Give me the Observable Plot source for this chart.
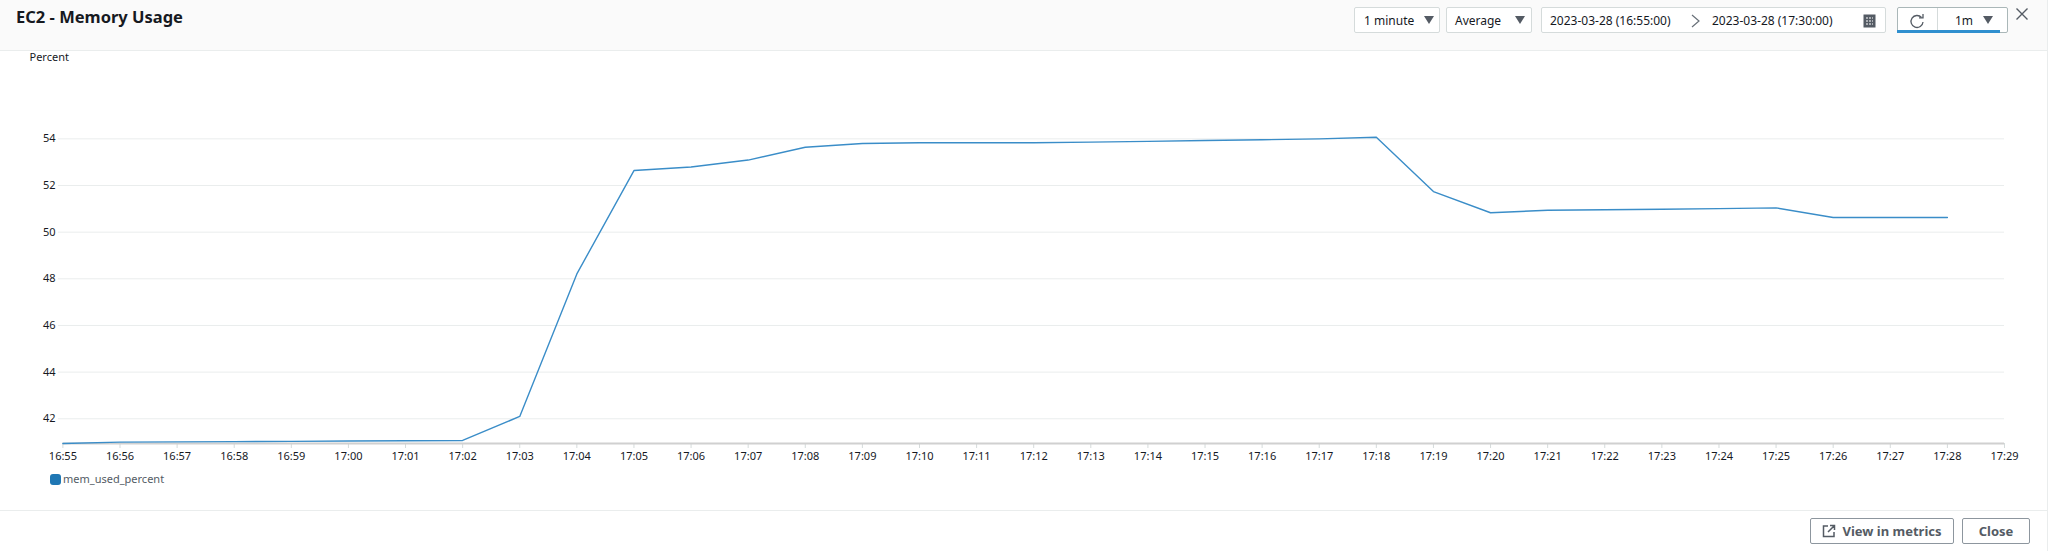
<!DOCTYPE html>
<html><head><meta charset="utf-8">
<script src="https://cdn.jsdelivr.net/npm/d3@7"></script>
<script src="https://cdn.jsdelivr.net/npm/@observablehq/plot@0.6"></script>
<style>
html,body{margin:0;padding:0;background:#fff;width:2048px;height:551px;overflow:hidden;font-family:"Noto Sans",sans-serif;color:#16191f}
.a{position:absolute;box-sizing:border-box}
#hdr{left:0;top:0;width:2048px;height:51px;background:#fafafa;border-bottom:1px solid #eaeded}
#title{left:16px;top:3px;font-size:16.5px;font-weight:700;line-height:28px;color:#16191f;white-space:nowrap}
.box{background:#fff;border:1px solid #d5dbdb;border-radius:2px;font-size:12px;line-height:23px;color:#16191f;white-space:nowrap}
.txt{font-size:12px;line-height:25px;white-space:nowrap;color:#16191f}
.arrow{width:0;height:0;border-left:5px solid transparent;border-right:5px solid transparent;border-top:8px solid #545b64}
#chart{left:0;top:50px}
#chart svg{display:block}
#sw{left:50px;top:474px;width:10.5px;height:10.5px;background:#1f77b4;border-radius:3px}
#lg{left:63px;top:471px;font-size:11px;line-height:16px;color:#545b64;white-space:nowrap}
#rule{left:0;top:510px;width:2047px;height:1px;background:#eaeded}
#edge{left:2047px;top:0;width:1px;height:551px;background:#eaeded}
.btn{background:#fff;border:1px solid #8d969e;border-radius:2px;font-size:13px;font-weight:700;color:#545b64;text-align:center;line-height:24px;white-space:nowrap}
</style></head><body>
<div id="hdr" class="a"></div>
<div id="title" class="a">EC2 - Memory Usage</div>

<div class="a box" style="left:1354px;top:7px;width:86px;height:26px"></div>
<div class="a txt" style="left:1364px;top:8px">1 minute</div>
<div class="a arrow" style="left:1424px;top:16px"></div>
<div class="a box" style="left:1446px;top:7px;width:86px;height:26px"></div>
<div class="a txt" style="left:1455px;top:8px">Average</div>
<div class="a arrow" style="left:1515px;top:16px"></div>
<div class="a box" style="left:1541px;top:7px;width:345px;height:26px"></div>
<div class="a txt" style="left:1550px;top:8px">2023-03-28 (16:55:00)</div>
<svg class="a" style="left:1690px;top:13px" width="12" height="16"><path d="M2 2 L9 8 L2 14" fill="none" stroke="#687078" stroke-width="1.2"/></svg>
<div class="a txt" style="left:1712px;top:8px">2023-03-28 (17:30:00)</div>
<svg class="a" style="left:1863px;top:14px" width="13" height="14"><rect x="0.5" y="0.5" width="12" height="13" fill="#545b64"/><path d="M3 4H10M3 7H10M3 10H10" stroke="#fff" stroke-dasharray="2 1"/></svg>
<div class="a box" style="left:1897px;top:7px;width:111px;height:26px;border-color:#aab7b8"></div>
<div class="a" style="left:1937px;top:8px;width:1px;height:24px;background:#d5dbdb"></div>
<svg class="a" style="left:1909px;top:13px" width="16" height="16"><path d="M12.5 4.5 A6 6 0 1 0 14 9" fill="none" stroke="#545b64" stroke-width="1.3"/><path d="M10 4.8 L14 4.8 L14 1" fill="none" stroke="#545b64" stroke-width="1.3"/></svg>
<div class="a txt" style="left:1955px;top:8px">1m</div>
<div class="a arrow" style="left:1983px;top:16px"></div>
<div class="a" style="left:1897px;top:30px;width:103px;height:3px;background:#2f8fcf"></div>
<svg class="a" style="left:2015px;top:7px" width="14" height="14"><path d="M1.5 1.5 L12.5 12.5 M12.5 1.5 L1.5 12.5" stroke="#545b64" stroke-width="1.4"/></svg>

<div id="chart" class="a"></div>
<div id="sw" class="a"></div>
<div id="lg" class="a">mem_used_percent</div>
<div id="rule" class="a"></div>
<div id="edge" class="a"></div>
<div class="a btn" style="left:1810px;top:518px;width:144px;height:26px"><svg width="14" height="14" style="vertical-align:-2px;margin-right:6px"><path d="M6 2H1.5V12.5H12V8M8 1.5H12.5V6M12.5 1.5L6 8" fill="none" stroke="#545b64" stroke-width="1.5"/></svg>View in metrics</div>
<div class="a btn" style="left:1962px;top:518px;width:68px;height:26px">Close</div>

<script>
const minutes = ["16:55","16:56","16:57","16:58","16:59","17:00","17:01","17:02","17:03","17:04","17:05","17:06","17:07","17:08","17:09","17:10","17:11","17:12","17:13","17:14","17:15","17:16","17:17","17:18","17:19","17:20","17:21","17:22","17:23","17:24","17:25","17:26","17:27","17:28"];
const memUsedPercent = [40.94,41.0,41.01,41.02,41.03,41.05,41.06,41.07,42.1,48.21,52.64,52.79,53.09,53.64,53.8,53.83,53.83,53.83,53.86,53.89,53.93,53.96,54.0,54.07,51.74,50.83,50.94,50.96,50.98,51.01,51.04,50.63,50.63,50.63];
const xTickLabels = [...minutes,"17:29"];
const yTicks = [42,44,46,48,50,52,54];
const yDomain = [40.94,55];

const toTime = m => new Date(`2023-03-28T${m}:00Z`);
const rows = minutes.map((m,i)=>({time:toTime(m),value:memUsedPercent[i]}));
const xTicks = xTickLabels.map(toTime);
const font = '"Noto Sans",sans-serif';

const chart = Plot.plot({
  width:2048, height:420,
  marginLeft:58, marginRight:44, marginTop:65, marginBottom:27,
  style:{background:"transparent",fontFamily:font,fontSize:"11px"},
  x:{type:"utc",domain:[xTicks[0],xTicks[xTicks.length-1]],insetLeft:4.4},
  y:{domain:yDomain},
  marks:[
    Plot.gridY(yTicks,{stroke:"#eaeded",strokeOpacity:1}),
    Plot.axisY({ticks:yTicks,tickSize:0,tickPadding:3,label:"Percent",labelArrow:"none",labelAnchor:"top",labelOffset:29,fill:"#16191f"}),
    Plot.axisX({ticks:xTicks,tickFormat:d3.utcFormat("%H:%M"),tickSize:5,tickPadding:4,label:null,stroke:"#d5dbdb",fill:"#16191f"}),
    Plot.ruleY([yDomain[0]],{x1:xTicks[0],x2:xTicks[xTicks.length-1],stroke:"#d0d0d0",strokeWidth:2}),
    Plot.line(rows,{x:"time",y:"value",stroke:"#3a8dc8",strokeWidth:1.4,curve:"linear"})
  ]
});
document.getElementById("chart").append(chart);
</script>
</body></html>
